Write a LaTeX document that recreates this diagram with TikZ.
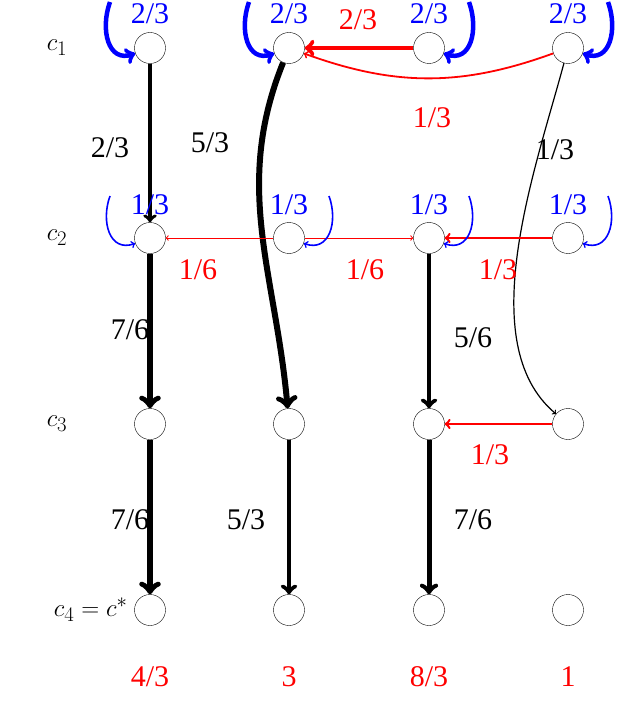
\documentclass[tikz,border=0pt]{standalone}
\usepackage{fontspec}
\setmainfont{Liberation Serif}
\usetikzlibrary{calc}
\begin{document}
\begin{tikzpicture}[x=1pt,y=-1pt,
  v/.style={circle,draw,thin,minimum size=31pt,inner sep=0pt},
  lab/.style={font=\fontsize{30}{32}\selectfont},
  rl/.style={lab,text=red},
  bl/.style={lab,text=blue},
  bk/.style={draw=black,->},
  rd/.style={draw=red,->},
  lp/.style={draw=blue,->}]
\useasboundingbox (0,0) rectangle (630,727);
\foreach \c/\x in {1/150,2/289,3/429,4/568}{
  \foreach \r/\y in {1/48,2/238,3/424,4/610}{
    \node[v] (n\c\r) at (\x,\y) {};
  }}
% row labels
\node[lab] (l1) at (57,48) {$c_1$};
\node[lab] (l2) at (57,238) {$c_2$};
\node[lab] (l3) at (57,424) {$c_3$};
\node[lab,anchor=east] (l4) at (131,610) {$c_4=c^*$};
% black flows
\draw[bk,line width=3.5pt] (n11) -- (n12);
\node[lab] (t1) at (110,148) {2/3};
\draw[bk,line width=6pt] (n21) to[out=-112,in=95] (n23);
\node[lab] (t2) at (210,143) {5/3};
\draw[bk,line width=1.2pt] (n41) to[out=-105,in=140,looseness=0.8] (n43);
\node[lab] (t3) at (555,150) {1/3};
\draw[bk,line width=6pt] (n12) -- (n13);
\node[lab] (t4) at (130,330) {7/6};
\draw[bk,line width=4.5pt] (n32) -- (n33);
\node[lab] (t5) at (473,338) {5/6};
\draw[bk,line width=6pt] (n13) -- (n14);
\node[lab] (t6) at (130,520) {7/6};
\draw[bk,line width=4.5pt] (n23) -- (n24);
\node[lab] (t7) at (246,520) {5/3};
\draw[bk,line width=5pt] (n33) -- (n34);
\node[lab] (t8) at (473,520) {7/6};
% red flows
\draw[rd,line width=4.5pt] (n31) -- (n21);
\node[rl] (r1) at (358,20) {2/3};
\draw[rd,line width=1.8pt] (n41) to[out=200,in=-20] (n21);
\node[rl] (r2) at (432,118) {1/3};
\draw[rd,line width=1pt] (n22) -- (n12);
\draw[rd,line width=1pt] (n22) -- (n32);
\node[rl] (r3) at (198,270) {1/6};
\node[rl] (r4) at (365,270) {1/6};
\draw[rd,line width=2.5pt] (n42) -- (n32);
\node[rl] (r5) at (498,270) {1/3};
\draw[rd,line width=2.5pt] (n43) -- (n33);
\node[rl] (r6) at (490,455) {1/3};
% blue loops
\foreach \c/\s in {1/-1,2/-1,3/1,4/1}{
  \coordinate (a\c1) at ($(n\c1)+(\s*40,-46)$);
}
\foreach \c/\s in {1/-1,2/1,3/1,4/1}{
  \coordinate (a\c2) at ($(n\c2)+(\s*40,-42)$);
}
\draw[lp,line width=4.5pt] (a11) to[out=250,in=200,looseness=1.3] (n11);
\draw[lp,line width=4.5pt] (a21) to[out=250,in=200,looseness=1.3] (n21);
\draw[lp,line width=4.5pt] (a31) to[out=-70,in=-20,looseness=1.3] (n31);
\draw[lp,line width=4.5pt] (a41) to[out=-70,in=-20,looseness=1.3] (n41);
\draw[lp,line width=1.6pt] (a12) to[out=250,in=200,looseness=1.3] (n12);
\draw[lp,line width=1.6pt] (a22) to[out=-70,in=-20,looseness=1.3] (n22);
\draw[lp,line width=1.6pt] (a32) to[out=-70,in=-20,looseness=1.3] (n32);
\draw[lp,line width=1.6pt] (a42) to[out=-70,in=-20,looseness=1.3] (n42);
\foreach \c/\x in {1/150,2/289,3/429,4/568}{
  \node[bl] (b\c1) at (\x,14) {2/3};
  \node[bl] (b\c2) at (\x,205) {1/3};
}
% bottom
\node[rl] (s1) at (150,677) {4/3};
\node[rl] (s2) at (289,677) {3};
\node[rl] (s3) at (429,677) {8/3};
\node[rl] (s4) at (568,677) {1};
\end{tikzpicture}
\end{document}
